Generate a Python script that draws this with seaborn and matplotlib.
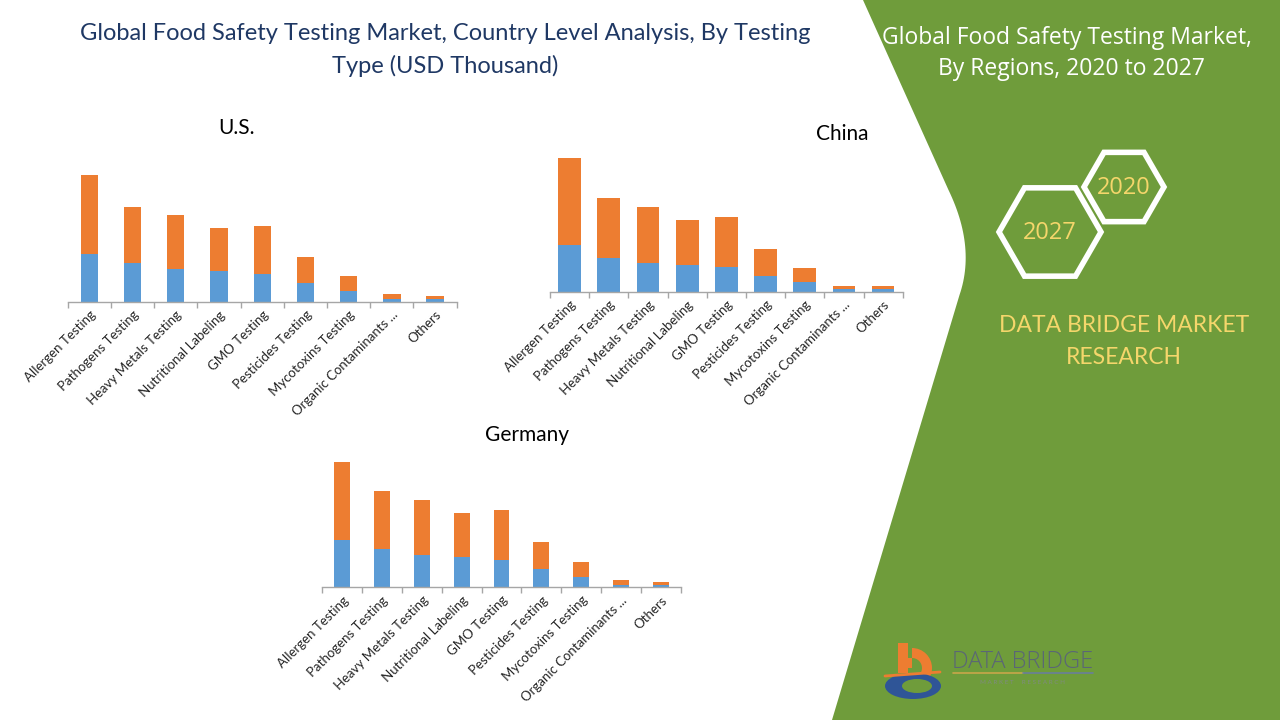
import numpy as np
import pandas as pd
import matplotlib.pyplot as plt
import seaborn as sns
from matplotlib.patches import Polygon, RegularPolygon, Rectangle, Wedge, Ellipse

# Testing types (x axis)
categories = ["Allergen Testing", "Pathogens Testing", "Heavy Metals Testing",
              "Nutritional Labeling", "GMO Testing", "Pesticides Testing",
              "Mycotoxins Testing", "Organic Contaminants ...", "Others"]

# values (stack total and lower blue part)
us_total = [126.7, 94.7, 86.7, 73.7, 75.7, 44.7, 25.7, 7.7, 5.7]
us_blue = [47.7, 38.7, 32.7, 30.7, 27.7, 18.7, 10.7, 3.0, 3.0]
china_total = [134.0, 93.7, 84.7, 71.7, 74.7, 42.7, 23.7, 5.7, 5.7]
china_blue = [46.7, 34.0, 28.7, 26.7, 24.7, 15.7, 9.7, 3.0, 3.0]
germany_total = [125.0, 96.0, 87.0, 74.0, 77.0, 45.0, 25.0, 7.0, 5.0]
germany_blue = [47.3, 38.3, 32.3, 30.3, 27.3, 18.3, 10.3, 2.3, 2.3]

BLUE = "#5b9bd5"
ORANGE = "#ed7d31"
GREEN = "#6f9c3b"
YELLOW = "#f5d66b"
NAVY = "#1f3864"

sns.set_theme(style="white")
plt.rcParams["font.family"] = ["Lato", "DejaVu Sans"]

W, H = 1280, 720
fig = plt.figure(figsize=(12.8, 7.2), dpi=100)
fig.patch.set_facecolor("white")

# background layer in pixel coordinates
bg = fig.add_axes([0, 0, 1, 1], zorder=0)
bg.set_xlim(0, W)
bg.set_ylim(H, 0)
bg.axis("off")

# curved edge of the green panel (rounded tip with a quadratic bezier)
p0, pc, p1 = np.array([948.5, 190]), np.array([976, 247]), np.array([959.5, 295])
t = np.linspace(0, 1, 30)[:, None]
tip = (1 - t) ** 2 * p0 + 2 * (1 - t) * t * pc + t ** 2 * p1
green_pts = [(863, 0)] + [tuple(p) for p in tip] + [(832, 720), (W, H), (W, 0)]
bg.add_patch(Polygon(green_pts, closed=True, facecolor=GREEN, edgecolor="none"))

# hexagons
for (cx, cy, r, label) in [(1124, 187, 40, "2020"), (1050, 232, 51, "2027")]:
    bg.add_patch(RegularPolygon((cx, cy), numVertices=6, radius=r, orientation=np.pi / 6,
                                facecolor="none", edgecolor="white", linewidth=4))
    bg.text(cx, cy + 1, label, color=YELLOW, fontsize=17, ha="center", va="center",
            family=["Open Sans", "DejaVu Sans"])

# texts on the green panel
bg.text(1067, 38, "Global Food Safety Testing Market,", color="white", fontsize=16.5,
        ha="center", va="center", family=["Open Sans", "DejaVu Sans"])
bg.text(1071, 69, "By Regions, 2020 to 2027", color="white", fontsize=16.5,
        ha="center", va="center", family=["Open Sans", "DejaVu Sans"])
bg.text(1124, 326, "DATA BRIDGE MARKET", color=YELLOW, fontsize=16.5, ha="center", va="center")
bg.text(1124, 357, "RESEARCH", color=YELLOW, fontsize=16.5, ha="center", va="center")

# logo (rough)
bg.add_patch(Rectangle((898, 643), 10, 30, facecolor=ORANGE, edgecolor="none"))
bg.add_patch(Wedge((912, 668), 20, 270, 90, width=10, facecolor=ORANGE, edgecolor="none"))
bg.add_patch(Rectangle((898, 658), 14, 10, facecolor=ORANGE, edgecolor="none"))
bg.add_patch(Ellipse((913, 686), 56, 26, facecolor="#2f5597", edgecolor="none"))
bg.add_patch(Ellipse((917, 686), 30, 14, facecolor=GREEN, edgecolor="none"))
bg.plot([885, 940], [676, 672], color=ORANGE, lw=2)
bg.text(952, 662, "DATA BRIDGE", color="#5a6676", fontsize=17, ha="left", va="center",
        family=["Open Sans", "DejaVu Sans"], fontweight="light")
bg.plot([953, 1023], [673, 673], color="#c9a64a", lw=1.2)
bg.plot([1023, 1093], [673, 673], color="#6a7f9a", lw=1.2)
bg.text(1023, 682, "M A R K E T     R E S E A R C H", color="#7f8a80", fontsize=4.5,
        ha="center", va="center")

# main title
bg.text(445, 34, "Global Food Safety Testing Market, Country Level Analysis, By Testing",
        color=NAVY, fontsize=17, ha="center", va="center")
bg.text(445, 66, "Type (USD Thousand)", color=NAVY, fontsize=17, ha="center", va="center")


def draw_panel(left, right, baseline, total, blue, bar_w, title, tx, ty):
    height = 140
    ax = fig.add_axes([left / W, (H - baseline) / H, (right - left) / W, height / H], zorder=2)
    ax.patch.set_alpha(0)
    df = pd.DataFrame({"type": categories, "total": total, "blue": blue})
    sns.barplot(data=df, x="type", y="total", order=categories, color=ORANGE,
                saturation=1, width=bar_w, linewidth=0, ax=ax)
    sns.barplot(data=df, x="type", y="blue", order=categories, color=BLUE,
                saturation=1, width=bar_w, linewidth=0, ax=ax)
    n = len(categories)
    ax.set_xlim(-0.5, n - 0.5)
    ax.set_ylim(0, height)
    ax.set_xlabel("")
    ax.set_ylabel("")
    ax.set_yticks([])
    for s in ["top", "left", "right"]:
        ax.spines[s].set_visible(False)
    ax.spines["bottom"].set_color("#a6a6a6")
    ax.spines["bottom"].set_linewidth(1)
    ax.set_xticks(np.arange(-0.5, n, 1.0), minor=True)
    ax.tick_params(axis="x", which="minor", length=4, color="#a6a6a6", width=1, bottom=True)
    ax.tick_params(axis="x", which="major", length=0, pad=5, bottom=True)
    ax.set_xticks(range(n))
    ax.set_xticklabels(categories, rotation=45, ha="right", rotation_mode="anchor",
                       fontsize=9.5, color="#262626")
    bg.text(tx, ty, title, color="black", fontsize=15, ha="center", va="center")
    return ax


draw_panel(67.7, 456.7, 301.7, us_total, us_blue, 0.4, "U.S.", 236, 128)
draw_panel(550, 902.7, 291.7, china_total, china_blue, 0.58, "China", 842, 134)
draw_panel(322.3, 680.7, 587, germany_total, germany_blue, 0.4, "Germany", 527, 435)

fig.savefig("out.png", dpi=100)
